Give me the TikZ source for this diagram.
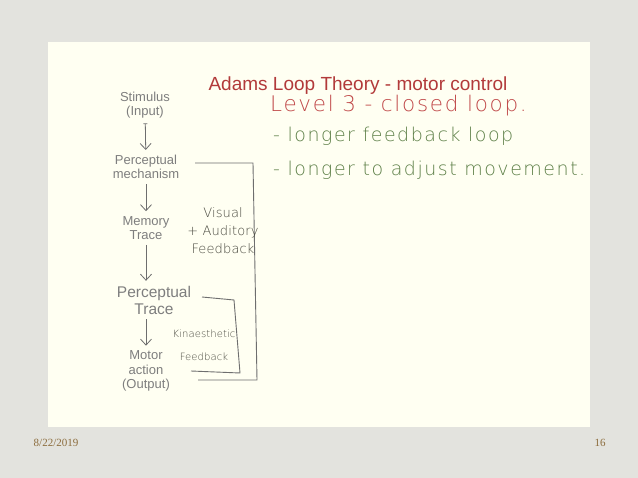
\documentclass[tikz,border=0pt]{standalone}
\usepackage{fontspec}
\setmainfont{Liberation Serif}
\setsansfont{Liberation Sans}
\newfontfamily\handfont[LetterSpace=8]{DejaVu Sans}[UprightFont={* ExtraLight}]
\newfontfamily\handtight[LetterSpace=1]{DejaVu Sans}[UprightFont={* ExtraLight}]
\usetikzlibrary{arrows.meta}

\definecolor{slidebg}{HTML}{E3E3DE}
\definecolor{cream}{HTML}{FFFFF2}
\definecolor{titlered}{HTML}{B23A3A}
\definecolor{handred}{HTML}{C04848}
\definecolor{handgreen}{HTML}{5E8048}
\definecolor{handdark}{HTML}{4A4A40}
\definecolor{textgray}{HTML}{7E7E7E}
\definecolor{linegray}{HTML}{6E6E6E}
\definecolor{datebrown}{HTML}{8C6C3C}

\tikzset{
  stage/.style={font=\sffamily\fontsize{13}{14.5}\selectfont, text=textgray, align=center, inner sep=0pt, outer sep=5pt},
  bigstage/.style={stage, font=\sffamily\fontsize{15.5}{17}\selectfont},
  flow/.style={draw=linegray, line width=0.8pt, -{Straight Barb[length=6pt,width=11pt]}},
  bracket/.style={draw=linegray, line width=0.9pt},
  note/.style={font=\handtight\fontsize{13}{18}\selectfont, inner sep=0pt},
  footer/.style={font=\rmfamily\fontsize{11}{12}\selectfont, text=datebrown}
}

\begin{document}
\begin{tikzpicture}[x=1pt,y=-1pt]
  \useasboundingbox (0,0) rectangle (638,478);
  \fill[slidebg] (0,0) rectangle (638,478);
  \fill[cream] (48,42) rectangle (590,427);

  \node[font=\sffamily\fontsize{19}{20}\selectfont, text=titlered, inner sep=0pt] (title) at (358,86) {Adams Loop Theory - motor control};

  % flow of stages
  \node[stage] (stim) at (145,105) {Stimulus\\(Input)};
  \node[stage] (percmech) at (146,167) {Perceptual\\mechanism};
  \node[stage] (memtrace) at (146,228) {Memory\\Trace};
  \node[bigstage] (perctrace) at (154,300) {Perceptual\\Trace};
  \node[stage] (motor) at (146,371) {Motor\\action\\(Output)};

  \draw[flow, {Bar[width=4pt]}-{Straight Barb[length=6pt,width=11pt]}] (stim) -- (percmech);
  \draw[flow] (percmech) -- (memtrace);
  \draw[flow] (memtrace) -- (memtrace |- perctrace.north);
  \draw[flow] (perctrace.south -| motor.north) -- (motor.north);

  % feedback brackets
  \coordinate (outA) at (195,163);
  \coordinate (outB) at (253,163);
  \coordinate (outC) at (257,380);
  \coordinate (outD) at (198,380);
  \draw[bracket] (outA) -- (outB) -- (outC) -- (outD);
  \coordinate (inA) at (202,297);
  \coordinate (inB) at (234,300);
  \coordinate (inC) at (240,373);
  \coordinate (inD) at (191,371);
  \draw[bracket] (inA) -- (inB) -- (inC) -- (inD);

  \node[note, text=handdark, align=center] (visaud) at (223,231) {Visual\\+ Auditory\\Feedback};
  \node[note, text=handdark, align=center, font=\handtight\fontsize{10}{23}\selectfont] (kinaes) at (204,345) {Kinaesthetic\\Feedback};

  % handwritten notes
  \node[note, text=handred, anchor=west, font=\handfont\fontsize{21.5}{22}\selectfont] (level) at (270,106) {Level 3 - closed loop.};
  \node[note, text=handgreen, anchor=west, font=\handfont\fontsize{19}{20}\selectfont] (fbloop) at (273,136) {- longer feedback loop};
  \node[note, text=handgreen, anchor=west, font=\handfont\fontsize{19}{20}\selectfont] (adjust) at (273,170) {- longer to adjust movement.};

  \node[footer] (date) at (56,443) {8/22/2019};
  \node[footer] (page) at (600,443) {16};
\end{tikzpicture}
\end{document}
